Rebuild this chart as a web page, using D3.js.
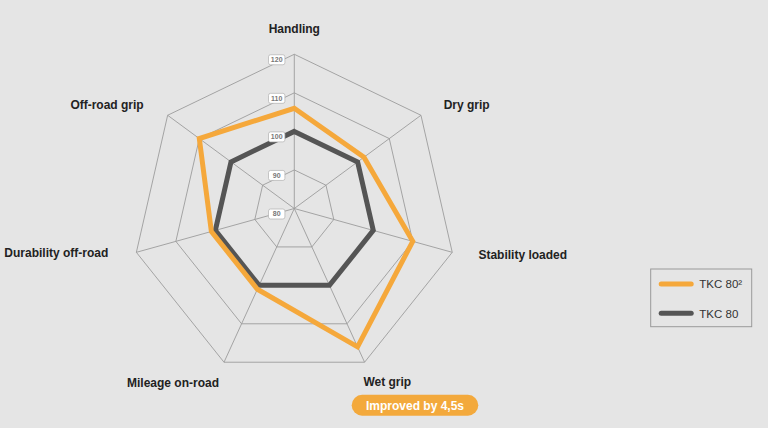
<!DOCTYPE html>
<html>
<head>
<meta charset="utf-8">
<script src="https://cdn.jsdelivr.net/npm/d3@7"></script>
<style>
  html, body { margin: 0; padding: 0; background: #e5e5e5; }
  svg { display: block; }
</style>
</head>
<body>
<svg id="radar"></svg>
<script>
// Data
const axes = ["Handling", "Dry grip", "Stability loaded", "Wet grip", "Mileage on-road", "Durability off-road", "Off-road grip"];
const tkc802 = [106, 102, 110, 116, 101, 101, 110];
const tkc80 = [100, 100, 100, 100, 100, 100, 100];
const ringTicks = [80, 90, 100, 110, 120];
const seriesNames = ["TKC 80²", "TKC 80"];
const badgeText = "Improved by 4,5s";

// Sizes
const width = 768;
const height = 428;
const cx = 294.3;
const cy = 208.5;
const tilt = 0.048;   // the rings drift down a bit as they grow

const r = d3.scaleLinear().domain([80, 120]).range([0, 162]);
const angle = d3.scaleLinear().domain([0, axes.length]).range([0, 2 * Math.PI]);

function project(i, v) {
    const rr = r(v);
    const a = angle(i);
    return [cx + rr * Math.sin(a), cy + tilt * rr - rr * Math.cos(a)];
}

const color = d3.scaleOrdinal()
    .domain(seriesNames)
    .range(["#f5a83b", "#555555"]);

const svg = d3.select("#radar")
    .attr("width", width)
    .attr("height", height)
    .attr("viewBox", [0, 0, width, height])
    .style("font-family", "'Liberation Sans', Arial, sans-serif");

svg.append("rect")
    .attr("width", width)
    .attr("height", height)
    .attr("fill", "#e5e5e5");

// Grid rings
const ringLine = d3.line().curve(d3.curveLinearClosed);
const grid = svg.append("g")
    .attr("fill", "none")
    .attr("stroke", "#9c9c9c")
    .attr("stroke-width", 0.9);

grid.selectAll("path")
  .data(ringTicks.filter(t => t > 80))
  .join("path")
    .attr("d", t => ringLine(axes.map((_, i) => project(i, t))));

// Spokes
grid.selectAll("line")
  .data(axes)
  .join("line")
    .attr("x1", cx)
    .attr("y1", cy)
    .attr("x2", (d, i) => project(i, 120)[0])
    .attr("y2", (d, i) => project(i, 120)[1]);

// Series lines
const series = [[seriesNames[1], tkc80], [seriesNames[0], tkc802]];
svg.append("g")
    .attr("fill", "none")
    .attr("stroke-width", 5)
    .attr("stroke-linejoin", "miter")
  .selectAll("path")
  .data(series)
  .join("path")
    .attr("stroke", ([key]) => color(key))
    .attr("d", ([, values]) => ringLine(values.map((v, i) => project(i, v))));

// Tick label boxes
const ticks = svg.append("g")
  .selectAll("g")
  .data(ringTicks)
  .join("g")
    .attr("transform", t => `translate(${cx - 17.6},${project(0, t)[1] + 5.5})`);

ticks.append("rect")
    .attr("x", -8.2)
    .attr("y", -5)
    .attr("width", 16.4)
    .attr("height", 10)
    .attr("rx", 2)
    .attr("fill", "#ffffff")
    .attr("stroke", "#b0b0b0")
    .attr("stroke-width", 0.7);

ticks.append("text")
    .attr("text-anchor", "middle")
    .attr("dy", "0.35em")
    .attr("font-size", 7)
    .attr("font-weight", "bold")
    .attr("fill", "#777")
    .text(t => t);

// Axis labels, offsets from the outer vertex
const labelOffsets = [[0, -21.3], [45.7, -6.3], [70.5, 6.7], [22.7, 23.7], [-51, 24.4], [-80, 5], [-60.6, -6.3]];

svg.append("g")
    .attr("font-size", 12)
    .attr("font-weight", "bold")
    .attr("fill", "#222")
    .attr("text-anchor", "middle")
  .selectAll("text")
  .data(axes)
  .join("text")
    .attr("x", (d, i) => project(i, 120)[0] + labelOffsets[i][0])
    .attr("y", (d, i) => project(i, 120)[1] + labelOffsets[i][1])
    .text(d => d);

// Badge under "Wet grip"
const wet = project(3, 120);
const badge = svg.append("g")
    .attr("transform", `translate(${wet[0] + 50.4},${wet[1] + 43})`);

badge.append("rect")
    .attr("x", -63.3)
    .attr("y", -10.4)
    .attr("width", 126.6)
    .attr("height", 20.8)
    .attr("rx", 10.4)
    .attr("fill", "#f3a93c");

badge.append("text")
    .attr("text-anchor", "middle")
    .attr("y", 4.3)
    .attr("font-size", 12)
    .attr("font-weight", "bold")
    .attr("fill", "#fff")
    .text(badgeText);

// Legend
const legend = svg.append("g")
    .attr("transform", "translate(650.7,269)");

legend.append("rect")
    .attr("width", 101)
    .attr("height", 57.7)
    .attr("fill", "none")
    .attr("stroke", "#9a9a9a")
    .attr("stroke-width", 1);

const legendItems = legend.selectAll("g")
  .data(seriesNames)
  .join("g")
    .attr("transform", (d, i) => `translate(0,${15 + i * 29.3})`);

legendItems.append("line")
    .attr("x1", 10.5)
    .attr("x2", 40.5)
    .attr("stroke", d => color(d))
    .attr("stroke-width", 5)
    .attr("stroke-linecap", "round");

legendItems.append("text")
    .attr("x", 48.6)
    .attr("y", 4.3)
    .attr("font-size", 11.5)
    .attr("fill", "#333")
    .text(d => d);
</script>
</body>
</html>
